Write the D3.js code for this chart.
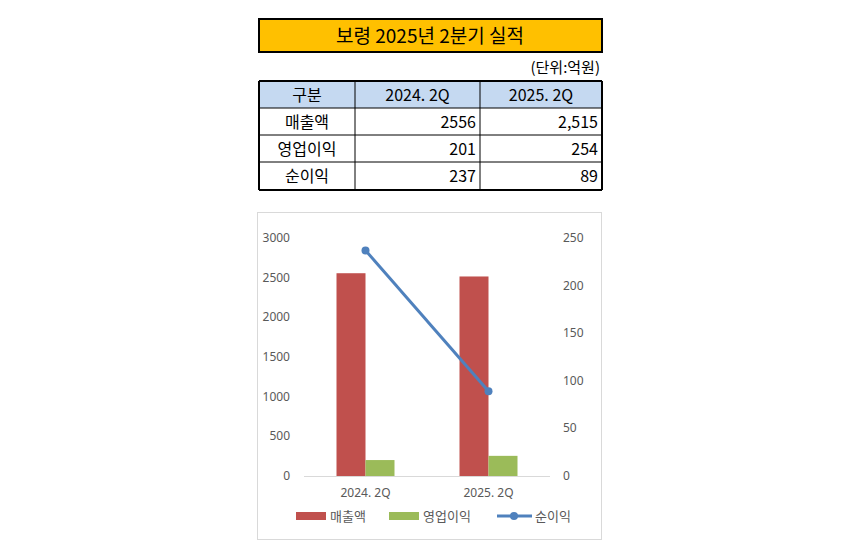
<!DOCTYPE html>
<html><head><meta charset="utf-8">
<script src="https://cdn.jsdelivr.net/npm/d3@7"></script>
<style>body{margin:0;background:#fff;font-family:"Noto Sans CJK KR","Noto Sans",sans-serif}</style>
</head><body>
<svg id="c" width="860" height="548"></svg>
<script>
const title = "보령 2025년 2분기 실적";
const unit = "(단위:억원)";
const headers = ["구분", "2024. 2Q", "2025. 2Q"];
const rowNames = ["매출액", "영업이익", "순이익"];
const rowVals = [["2556", "2,515"], ["201", "254"], ["237", "89"]];
const periods = ["2024. 2Q", "2025. 2Q"];
const sales = [2556, 2515];
const opProfit = [201, 254];
const netProfit = [237, 89];
const leftTicks = [0, 500, 1000, 1500, 2000, 2500, 3000];
const rightTicks = [0, 50, 100, 150, 200, 250];

const svg = d3.select("#c");
const kr = '"Noto Sans CJK KR",sans-serif';

// title box
svg.append("rect").attr("x", 259).attr("y", 19).attr("width", 343).attr("height", 33)
  .attr("fill", "#ffc000").attr("stroke", "#000").attr("stroke-width", 2);
svg.append("text").attr("x", 430).attr("y", 43).attr("text-anchor", "middle")
  .attr("font-family", kr).attr("font-size", 19).text(title);
svg.append("text").attr("x", 600).attr("y", 73).attr("text-anchor", "end")
  .attr("font-family", kr).attr("font-size", 15).text(unit);

// table
const colX = [259, 355, 480, 602];
const rowY = [81, 108, 135, 162, 190];
const tbl = svg.append("g");
tbl.append("rect").attr("x", colX[0]).attr("y", rowY[0]).attr("width", colX[3] - colX[0])
  .attr("height", rowY[1] - rowY[0]).attr("fill", "#c5d9f1");
rowY.forEach((y, i) => tbl.append("line").attr("x1", colX[0]).attr("x2", colX[3]).attr("y1", y).attr("y2", y)
  .attr("stroke", "#000").attr("stroke-width", (i === 0 || i === 4) ? 2 : 1));
colX.forEach((x, i) => tbl.append("line").attr("x1", x).attr("x2", x).attr("y1", rowY[0]).attr("y2", rowY[4])
  .attr("stroke", "#000").attr("stroke-width", (i === 0 || i === 3) ? 2 : 1));
headers.forEach((h, i) => tbl.append("text").attr("x", (colX[i] + colX[i + 1]) / 2).attr("y", rowY[0] + 20)
  .attr("text-anchor", "middle").attr("font-family", kr).attr("font-size", 16).text(h));
rowNames.forEach((n, r) => {
  const y = rowY[r + 1] + 20;
  tbl.append("text").attr("x", (colX[0] + colX[1]) / 2).attr("y", y).attr("text-anchor", "middle")
    .attr("font-family", kr).attr("font-size", 16).text(n);
  rowVals[r].forEach((v, c) => tbl.append("text").attr("x", colX[c + 2] - 4).attr("y", y)
    .attr("text-anchor", "end").attr("font-family", kr).attr("font-size", 16).text(v));
});

// chart box
svg.append("rect").attr("x", 257.5).attr("y", 212.5).attr("width", 344).attr("height", 327)
  .attr("fill", "#fff").attr("stroke", "#d9d9d9");

const x0 = d3.scaleBand().domain(periods).range([304, 550]);
const yL = d3.scaleLinear().domain([0, 3000]).range([476, 238]);
const yR = d3.scaleLinear().domain([0, 250]).range([476, 238]);
const bw = 29;
const g = svg.append("g").attr("font-family", '"Noto Sans",sans-serif').attr("font-size", 12).attr("fill", "#595959");

leftTicks.forEach(t => g.append("text").attr("x", 290).attr("y", yL(t) + 4).attr("text-anchor", "end")
  .attr("fill", "#595959").text(t));
rightTicks.forEach(t => g.append("text").attr("x", 563).attr("y", yR(t) + 4)
  .attr("fill", "#595959").text(t));
g.append("line").attr("x1", 304).attr("x2", 550).attr("y1", 476.5).attr("y2", 476.5).attr("stroke", "#d9d9d9");
periods.forEach(p => g.append("text").attr("x", x0(p) + x0.bandwidth() / 2).attr("y", 497)
  .attr("text-anchor", "middle").attr("fill", "#595959").text(p));

svg.selectAll(".s").data(sales).enter().append("rect")
  .attr("x", (d, i) => x0(periods[i]) + x0.bandwidth() / 2 - bw).attr("y", d => yL(d))
  .attr("width", bw).attr("height", d => yL(0) - yL(d)).attr("fill", "#c0504d");
svg.selectAll(".o").data(opProfit).enter().append("rect")
  .attr("x", (d, i) => x0(periods[i]) + x0.bandwidth() / 2).attr("y", d => yL(d))
  .attr("width", bw).attr("height", d => yL(0) - yL(d)).attr("fill", "#9bbb59");

const lx = i => x0(periods[i]) + x0.bandwidth() / 2;
svg.append("path").datum(netProfit)
  .attr("d", d3.line().x((d, i) => lx(i)).y(d => yR(d)))
  .attr("fill", "none").attr("stroke", "#4f81bd").attr("stroke-width", 3);
svg.selectAll(".p").data(netProfit).enter().append("circle")
  .attr("cx", (d, i) => lx(i)).attr("cy", d => yR(d)).attr("r", 4).attr("fill", "#4f81bd");

// legend
const lg = svg.append("g").attr("font-family", kr).attr("font-size", 13).attr("fill", "#595959");
lg.append("rect").attr("x", 296).attr("y", 512).attr("width", 30).attr("height", 8).attr("fill", "#c0504d");
lg.append("text").attr("x", 330).attr("y", 521).text("매출액");
lg.append("rect").attr("x", 389).attr("y", 512).attr("width", 30).attr("height", 8).attr("fill", "#9bbb59");
lg.append("text").attr("x", 423).attr("y", 521).text("영업이익");
lg.append("line").attr("x1", 497).attr("x2", 532).attr("y1", 516).attr("y2", 516).attr("stroke", "#4f81bd").attr("stroke-width", 3);
lg.append("circle").attr("cx", 514).attr("cy", 516).attr("r", 4).attr("fill", "#4f81bd");
lg.append("text").attr("x", 535).attr("y", 521).text("순이익");
</script>
</body></html>
